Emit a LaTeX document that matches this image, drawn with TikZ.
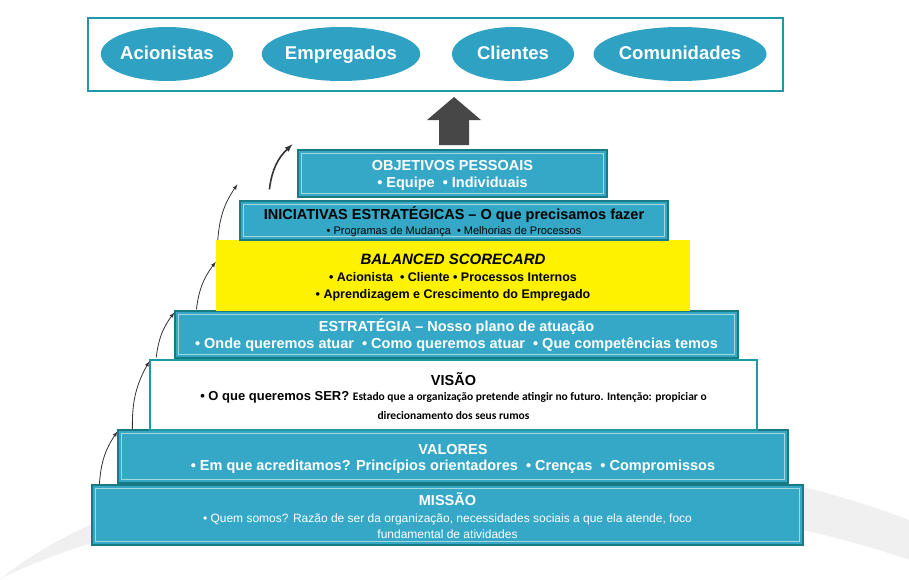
\documentclass[tikz,border=0pt]{standalone}
\usepackage{fontspec}
\setmainfont{Liberation Sans}
\newfontfamily\narrowf{Carlito}
\usetikzlibrary{shapes.geometric}
\begin{document}
\begin{tikzpicture}[x=1pt,y=-1pt,
  lay/.style={draw=teal!80!black,line width=1.2pt,fill=boxc,inner sep=0pt},
  ell/.style={ellipse,fill=ellc,text=white,font=\bfseries\fontsize{18.5}{20}\selectfont,minimum width=122,minimum height=54,inner sep=0pt,text height=13pt,text depth=3pt},
  t/.style={font=\bfseries\fontsize{14.5}{16}\selectfont,align=center},
  arr/.style={-latex,black!80,line width=0.8pt}]
\definecolor{boxc}{HTML}{35A8C8}
\definecolor{ellc}{HTML}{2FA2C4}
\definecolor{teal}{HTML}{1E9AA5}
\useasboundingbox (0,0) rectangle (909,579);
\fill[white] (0,0) rectangle (909,579);
\fill[black!6] (0,579) .. controls (200,420) and (650,420) .. (909,520) -- (909,579) -- cycle;
\fill[white] (0,579) .. controls (220,470) and (650,470) .. (909,560) -- (909,579) -- cycle;
% top box
\node[draw=teal,line width=2pt,fill=white,minimum width=695,minimum height=73,inner sep=0pt] (top) at (435.5,54.5) {};
\node[ell] (a1) at (167,54) {Acionistas};
\node[ell] (a2) at (341,54) {Empregados};
\node[ell] (a3) at (513,54) {Clientes};
\node[ell] (a4) at (680,54) {Comunidades};
\fill[black!72] (454,97) -- (481,120) -- (469,120) -- (469,145) -- (439,145) -- (439,120) -- (427,120) -- cycle;
% layers
\node[lay,minimum width=711,minimum height=60] (m) at (447.5,515) {};
\node[lay,minimum width=670,minimum height=53] (va) at (453,456.5) {};
\node[draw=teal,line width=1.5pt,fill=white,minimum width=607,minimum height=70,inner sep=0pt] (vi) at (453.5,395) {};
\node[lay,minimum width=563,minimum height=47] (e) at (456.5,334.5) {};
\node[draw=none,fill=yellow,minimum width=474,minimum height=71,inner sep=0pt] (b) at (453,275.5) {};
\node[lay,minimum width=428,minimum height=39] (i) at (454,220.5) {};
\node[lay,minimum width=309,minimum height=47] (o) at (452.5,173.5) {};
\foreach \n in {m,va,e,i,o}{\draw[white!60!teal,line width=0.6pt] ([shift={(4,4)}]\n.north west) rectangle ([shift={(-4,-4)}]\n.south east);}
% texts
\node[t,text=white] at (447.5,499) {MISSÃO};
\node[align=center,text=white,font=\fontsize{12}{16}\selectfont] at (447.5,526) {• Quem somos? Razão de ser da organização, necessidades sociais a que ela atende, foco\\fundamental de atividades};
\node[t,text=white] at (453,449) {VALORES};
\node[t,text=white] at (453,467) {• Em que acreditamos? Princípios orientadores \ • Crenças \ • Compromissos};
\node[t] at (453.5,379) {VISÃO};
\node[align=center,font=\fontsize{13}{19}\selectfont] at (453.5,405) {\textbf{• O que queremos SER?} {\narrowf\bfseries\fontsize{11.5}{19}\selectfont Estado que a organização pretende atingir no futuro. Intenção: propiciar o}\\{\narrowf\bfseries\fontsize{11.5}{19}\selectfont direcionamento dos seus rumos}};
\node[t,text=white] at (456.5,327) {ESTRATÉGIA – Nosso plano de atuação};
\node[t,text=white] at (456.5,345) {• Onde queremos atuar \ • Como queremos atuar \ • Que competências temos};
\node[font=\bfseries\itshape\fontsize{15}{17}\selectfont] at (453,259) {BALANCED SCORECARD};
\node[font=\bfseries\fontsize{12.5}{17}\selectfont,align=center] at (453,287) {• Acionista \ • Cliente • Processos Internos\\• Aprendizagem e Crescimento do Empregado};
\node[font=\bfseries\fontsize{14.5}{16}\selectfont] at (454,215) {INICIATIVAS ESTRATÉGICAS – O que precisamos fazer};
\node[font=\fontsize{11}{12}\selectfont] at (454,232) {• Programas de Mudança \ • Melhorias de Processos};
\node[t,text=white] at (452.5,166) {OBJETIVOS PESSOAIS};
\node[t,text=white] at (452.5,184) {• Equipe \ • Individuais};
% arrows
\draw[arr] ([shift={(8,0)}]m.north west) to[bend left=15] ([shift={(0,2)}]va.north west);
\draw[arr] ([shift={(15,0)}]va.north west) to[bend left=15] ([shift={(0,2)}]vi.north west);
\draw[arr] ([shift={(7,-2)}]vi.north west) to[bend left=15] ([shift={(0,2)}]e.north west);
\draw[arr] ([shift={(22,-1)}]e.north west) to[bend left=15] ([shift={(0,22)}]b.north west);
\draw[arr] ([shift={(2,0)}]b.north west) to[bend left=15] ([shift={(-2,-16)}]i.north west);
\draw[arr,line width=1.6pt] ([shift={(-28,40)}]o.north west) to[bend left=20] ([shift={(-5,-5)}]o.north west);
\end{tikzpicture}
\end{document}
